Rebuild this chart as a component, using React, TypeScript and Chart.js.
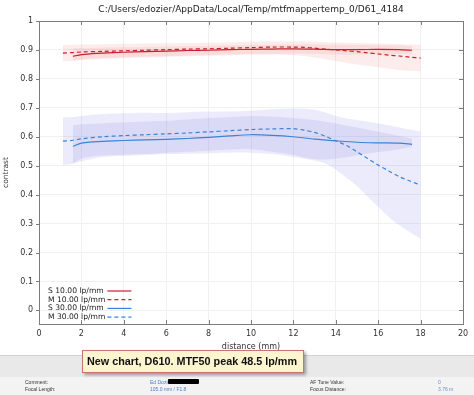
import React, { useEffect, useRef } from "react";
import { Chart, registerables } from "chart.js";

Chart.register(...registerables);

const TITLE = "C:/Users/edozier/AppData/Local/Temp/mtfmappertemp_0/D61_4184";
const X_LABEL = "distance (mm)";
const Y_LABEL = "contrast";
const CALLOUT = "New chart, D610. MTF50 peak 48.5 lp/mm";

const legendLabels = ["S 10.00 lp/mm", "M 10.00 lp/mm", "S 30.00 lp/mm", "M 30.00 lp/mm"];

// sagittal series positions (mm)
const sDist = [1.6, 2, 2.5, 3, 4, 5, 6, 7, 8, 9, 10, 11, 12, 13, 14, 15, 16, 17, 17.6];
// meridional series positions (mm)
const mDist = [1.13, 1.6, 2, 3, 4, 5, 6, 7, 8, 9, 10, 11, 12, 12.5, 13, 13.5, 14, 14.5, 15, 15.5, 16, 16.5, 17, 17.5, 18];

const s10 = [0.878, 0.884, 0.887, 0.889, 0.892, 0.894, 0.896, 0.898, 0.899, 0.901, 0.902, 0.903, 0.904, 0.903, 0.901, 0.901, 0.902, 0.901, 0.899];
const s10Hi = [0.905, 0.906, 0.907, 0.908, 0.909, 0.911, 0.912, 0.913, 0.914, 0.916, 0.917, 0.918, 0.919, 0.919, 0.918, 0.917, 0.916, 0.915, 0.913];
const s10Lo = [0.862, 0.866, 0.870, 0.872, 0.875, 0.877, 0.879, 0.881, 0.883, 0.885, 0.886, 0.887, 0.888, 0.886, 0.884, 0.884, 0.886, 0.886, 0.885];

const m10 = [0.889, 0.891, 0.893, 0.895, 0.897, 0.899, 0.901, 0.903, 0.904, 0.906, 0.908, 0.910, 0.910, 0.909, 0.906, 0.903, 0.900, 0.897, 0.894, 0.890, 0.886, 0.882, 0.879, 0.875, 0.872];
const m10Hi = [0.917, 0.918, 0.919, 0.920, 0.921, 0.922, 0.923, 0.924, 0.925, 0.926, 0.928, 0.929, 0.929, 0.929, 0.928, 0.927, 0.926, 0.925, 0.924, 0.923, 0.922, 0.921, 0.920, 0.919, 0.918];
const m10Lo = [0.861, 0.863, 0.866, 0.869, 0.872, 0.874, 0.876, 0.878, 0.880, 0.882, 0.884, 0.884, 0.882, 0.879, 0.874, 0.868, 0.862, 0.856, 0.850, 0.845, 0.840, 0.835, 0.831, 0.828, 0.826];

const s30 = [0.567, 0.578, 0.582, 0.584, 0.587, 0.589, 0.591, 0.594, 0.598, 0.603, 0.607, 0.605, 0.600, 0.592, 0.586, 0.581, 0.579, 0.578, 0.574];
const s30Hi = [0.640, 0.643, 0.645, 0.647, 0.650, 0.653, 0.655, 0.660, 0.665, 0.668, 0.672, 0.670, 0.665, 0.658, 0.646, 0.632, 0.617, 0.603, 0.594];
const s30Lo = [0.508, 0.525, 0.532, 0.535, 0.538, 0.540, 0.545, 0.548, 0.552, 0.556, 0.557, 0.548, 0.537, 0.522, 0.524, 0.536, 0.547, 0.557, 0.565];

const m30 = [0.585, 0.588, 0.593, 0.600, 0.604, 0.607, 0.610, 0.613, 0.617, 0.621, 0.625, 0.627, 0.628, 0.623, 0.615, 0.602, 0.586, 0.570, 0.548, 0.525, 0.502, 0.482, 0.462, 0.447, 0.433];
const m30Hi = [0.667, 0.668, 0.672, 0.678, 0.681, 0.683, 0.682, 0.685, 0.686, 0.687, 0.690, 0.695, 0.698, 0.697, 0.693, 0.684, 0.672, 0.663, 0.658, 0.652, 0.646, 0.640, 0.632, 0.625, 0.618];
const m30Lo = [0.503, 0.507, 0.515, 0.530, 0.534, 0.537, 0.540, 0.541, 0.543, 0.545, 0.545, 0.540, 0.530, 0.524, 0.518, 0.508, 0.487, 0.458, 0.430, 0.394, 0.358, 0.323, 0.294, 0.270, 0.248];

const RED = "#c8202e";
const BLUE = "#3a84d6";
const RED_FILL = "rgba(235,120,120,0.14)";
const BLUE_FILL = "rgba(120,120,225,0.15)";

const toPts = (xs: number[], ys: number[]) => xs.map((x, i) => ({ x, y: ys[i] }));

const lineDs = (label: string, xs: number[], ys: number[], color: string, dashed: boolean) => ({
  label,
  data: toPts(xs, ys),
  borderColor: color,
  borderWidth: 1.2,
  borderDash: dashed ? [4, 3] : [],
  pointRadius: 0,
  fill: false,
  tension: 0.3,
});

const bandDs = (xs: number[], ys: number[], fill: any, color: string) => ({
  label: "",
  data: toPts(xs, ys),
  borderWidth: 0,
  borderColor: "rgba(0,0,0,0)",
  backgroundColor: color,
  pointRadius: 0,
  fill,
  tension: 0.3,
});

const framePlugin = {
  id: "frame",
  afterDraw(chart: any) {
    const { ctx, chartArea: a, scales } = chart;
    ctx.save();
    ctx.strokeStyle = "#7c7c7c";
    ctx.lineWidth = 1;
    ctx.strokeRect(Math.round(a.left) + 0.5, Math.round(a.top) + 0.5, Math.round(a.right - a.left), Math.round(a.bottom - a.top));
    ctx.beginPath();
    for (const t of scales.y.ticks) {
      const py = Math.round(scales.y.getPixelForValue(t.value)) + 0.5;
      ctx.moveTo(a.left - 3, py);
      ctx.lineTo(a.left, py);
      ctx.moveTo(a.right - 4, py);
      ctx.lineTo(a.right, py);
    }
    for (const t of scales.x.ticks) {
      const px = Math.round(scales.x.getPixelForValue(t.value)) + 0.5;
      ctx.moveTo(px, a.bottom);
      ctx.lineTo(px, a.bottom - 4);
      ctx.moveTo(px, a.top);
      ctx.lineTo(px, a.top + 4);
    }
    ctx.stroke();

    // legend inside plot, bottom-left
    const colors = [RED, RED, BLUE, BLUE];
    const dashes = [false, true, false, true];
    ctx.font = '7.6px "DejaVu Sans", sans-serif';
    ctx.fillStyle = "#222";
    ctx.textBaseline = "middle";
    ctx.textAlign = "left";
    const tx = a.left + 9;
    const widths = legendLabels.map((l) => ctx.measureText(l).width);
    const maxW = Math.max(...widths);
    legendLabels.forEach((lab, i) => {
      const y = a.bottom - 33 + i * 8.7;
      ctx.fillText(lab, tx, y);
      ctx.beginPath();
      ctx.strokeStyle = colors[i];
      ctx.lineWidth = 1.2;
      ctx.setLineDash(dashes[i] ? [4, 3] : []);
      ctx.moveTo(tx + maxW + 2, y);
      ctx.lineTo(tx + maxW + 26, y);
      ctx.stroke();
    });
    ctx.restore();
  },
};

function MtfChart() {
  const ref = useRef<HTMLCanvasElement>(null);
  useEffect(() => {
    if (!ref.current) return;
    Chart.defaults.font.family = '"DejaVu Sans", sans-serif';
    const chart = new Chart(ref.current, {
      type: "line",
      data: {
        datasets: [
          lineDs(legendLabels[0], sDist, s10, RED, false),
          lineDs(legendLabels[1], mDist, m10, RED, true),
          lineDs(legendLabels[2], sDist, s30, BLUE, false),
          lineDs(legendLabels[3], mDist, m30, BLUE, true),
          bandDs(sDist, s10Hi, 5, RED_FILL),
          bandDs(sDist, s10Lo, false, RED_FILL),
          bandDs(mDist, m10Hi, 7, RED_FILL),
          bandDs(mDist, m10Lo, false, RED_FILL),
          bandDs(sDist, s30Hi, 9, BLUE_FILL),
          bandDs(sDist, s30Lo, false, BLUE_FILL),
          bandDs(mDist, m30Hi, 11, BLUE_FILL),
          bandDs(mDist, m30Lo, false, BLUE_FILL),
        ] as any,
      },
      options: {
        responsive: false,
        animation: false,
        events: [],
        layout: { padding: { left: 0, right: 11, top: 0, bottom: 0 } },
        scales: {
          x: {
            type: "linear",
            min: 0,
            max: 20,
            ticks: { stepSize: 2, color: "#333", font: { size: 8 }, padding: 5, maxRotation: 0 },
            grid: { color: "#f0f0f0", drawTicks: false },
            border: { display: false },
            title: { display: true, text: X_LABEL, color: "#333", font: { size: 8 }, padding: { top: 0, bottom: 0 } },
            afterFit: (s: any) => { s.height = 28; },
          },
          y: {
            type: "linear",
            min: -0.047,
            max: 1,
            ticks: {
              stepSize: 0.1,
              includeBounds: false,
              color: "#333",
              font: { size: 8 },
              padding: 6,
              callback: (v: any) => String(Math.round(Number(v) * 10) / 10),
            },
            grid: { color: "#f0f0f0", drawTicks: false },
            border: { display: false },
            title: { display: true, text: Y_LABEL, color: "#333", font: { size: 7.5 }, padding: { top: 2, bottom: 0 } },
            afterFit: (s: any) => { s.width = 39; },
          },
        },
        plugins: {
          legend: { display: false },
          tooltip: { enabled: false },
          filler: { drawTime: "beforeDatasetsDraw" },
          title: {
            display: true,
            text: TITLE,
            fullSize: false,
            color: "#222",
            font: { size: 9, weight: "normal" },
            padding: { top: 4.6, bottom: 5.6 },
          },
        },
      } as any,
      plugins: [framePlugin],
    });
    return () => chart.destroy();
  }, []);
  return <canvas ref={ref} width={474} height={352} style={{ display: "block", width: 474, height: 352 }} />;
}

const small: React.CSSProperties = {
  position: "absolute",
  fontSize: 5,
  fontFamily: '"Liberation Sans", Arial, sans-serif',
  lineHeight: "6px",
  whiteSpace: "nowrap",
};

export default function App() {
  return (
    <div style={{ position: "absolute", left: 0, top: 0, width: 474, height: 395, overflow: "hidden", background: "#fff" }}>
      <MtfChart />
      <div style={{ position: "absolute", left: 0, top: 355, width: 474, height: 22, background: "#e9e9e9", borderTop: "1px solid #d2d2d2" }} />
      <div style={{ position: "absolute", left: 0, top: 377, width: 474, height: 18, background: "#f3f3f3" }} />
      <div
        style={{
          position: "absolute",
          left: 82,
          top: 350,
          width: 222,
          height: 23,
          boxSizing: "border-box",
          border: "1px solid #cc7468",
          background: "#fdf5cf",
          boxShadow: "2px 2px 3px rgba(0,0,0,0.35)",
          font: 'bold 10.8px "Liberation Sans", Arial, sans-serif',
          lineHeight: "21px",
          paddingLeft: 4,
          color: "#111",
          whiteSpace: "nowrap",
        }}
      >
        {CALLOUT}
      </div>
      <div style={{ ...small, left: 25, top: 379, color: "#333" }}>Comment:</div>
      <div style={{ ...small, left: 25, top: 386, color: "#333" }}>Focal Length:</div>
      <div style={{ ...small, left: 150, top: 379, color: "#4a7fc8" }}>Ed Dozier</div>
      <div style={{ position: "absolute", left: 168, top: 379, width: 31, height: 5, background: "#000", borderRadius: 1 }} />
      <div style={{ ...small, left: 150, top: 386, color: "#4a7fc8" }}>105.0 mm / F1.8</div>
      <div style={{ ...small, left: 310, top: 379, color: "#333" }}>AF Tune Value:</div>
      <div style={{ ...small, left: 310, top: 386, color: "#333" }}>Focus Distance:</div>
      <div style={{ ...small, left: 438, top: 379, color: "#6a8cc0" }}>0</div>
      <div style={{ ...small, left: 438, top: 386, color: "#6a8cc0" }}>3.76 m</div>
    </div>
  );
}
